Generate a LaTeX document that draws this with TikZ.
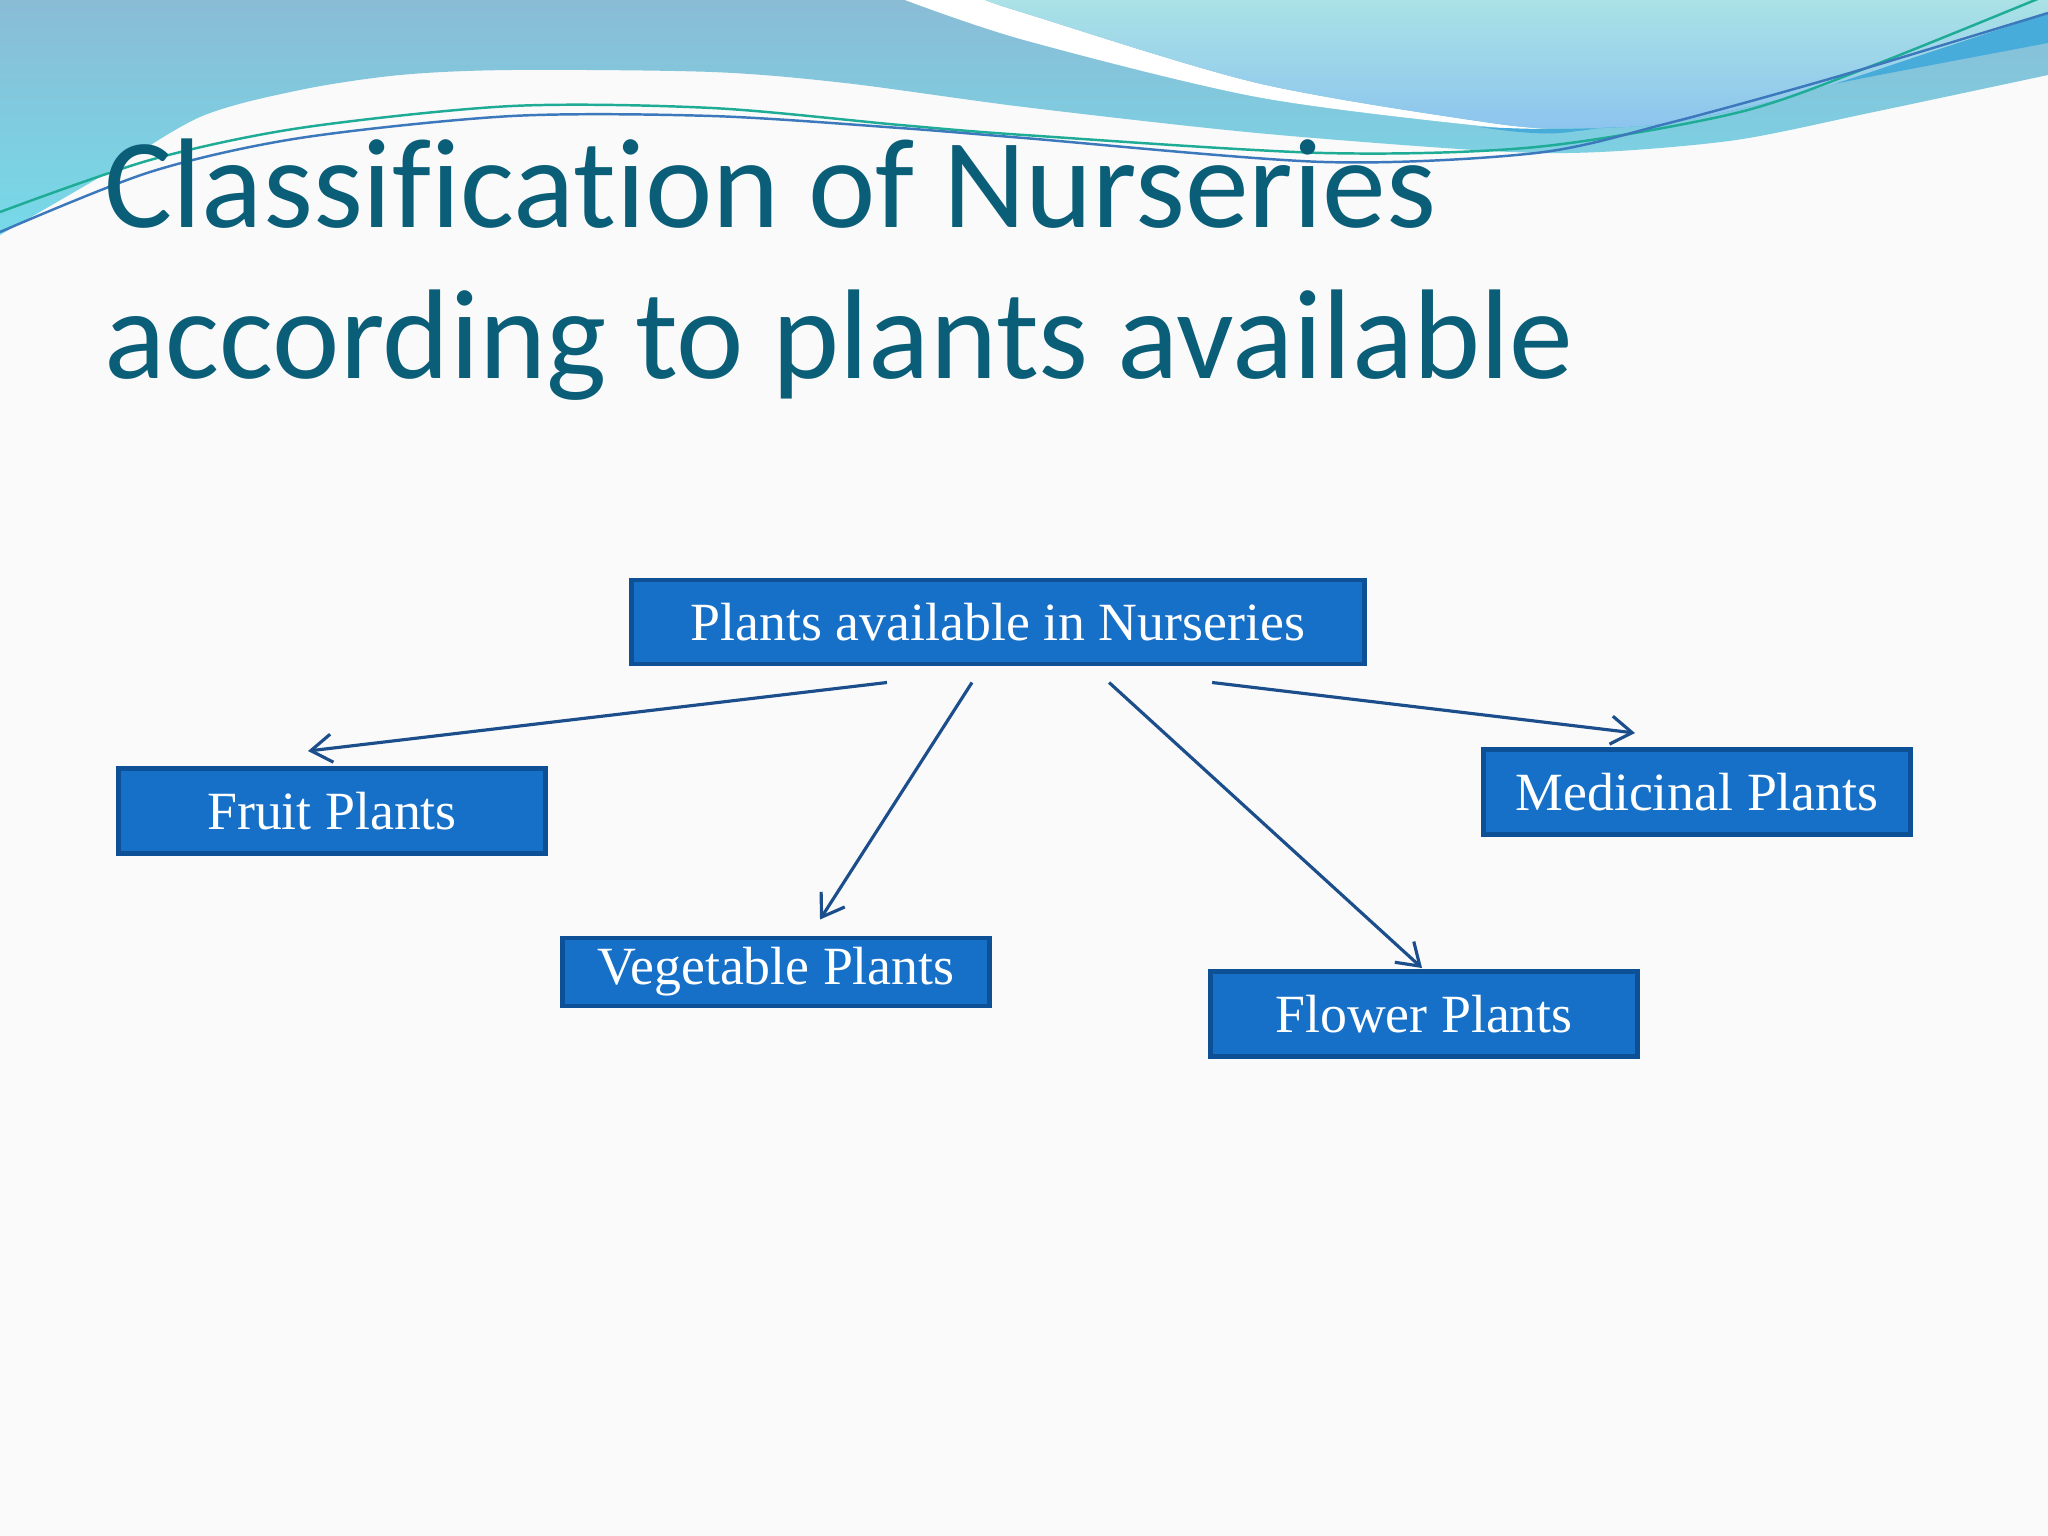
\documentclass[tikz,border=0pt]{standalone}
\usepackage{fontspec}
\setmainfont{Liberation Serif}
\newfontfamily\titlefont[Ligatures={NoCommon}]{Carlito}
\usetikzlibrary{arrows.meta}

\definecolor{titleteal}{RGB}{10,94,120}
\definecolor{boxblue}{RGB}{22,112,200}
\definecolor{boxedge}{RGB}{14,80,150}
\definecolor{arrowblue}{RGB}{28,78,140}
\definecolor{wavetop}{RGB}{138,188,214}
\definecolor{wavebottom}{RGB}{118,218,232}
\definecolor{lighttop}{RGB}{170,226,230}
\definecolor{lightbottom}{RGB}{140,196,238}
\definecolor{darkband}{RGB}{72,172,218}
\definecolor{linegreen}{RGB}{30,172,150}
\definecolor{lineblue}{RGB}{60,120,188}
\definecolor{paper}{RGB}{250,250,250}

\begin{document}
\begin{tikzpicture}[x=0.01cm,y=-0.01cm,>={Straight Barb[length=6pt,width=8pt]},
  plant box/.style={rectangle,fill=boxblue,draw=boxedge,line width=1.4pt,text=white,
    font=\fontsize{15.3}{18}\selectfont,minimum width=4.26cm,minimum height=0.85cm,inner sep=0pt},
  title text/.style={anchor=base west,inner sep=0pt,text=titleteal,font=\titlefont\fontsize{36.3}{43}\selectfont}]

  \useasboundingbox (0,0) rectangle (2048,1536);
  \clip (0,0) rectangle (2048,1536);

  % background and waves
  \fill[paper] (0,0) rectangle (2048,1536);
  \shade[top color=wavetop,bottom color=wavebottom] (0,0) -- (2048,0) -- (2048,75)
    -- plot[smooth] coordinates {(2048,75) (1869,113) (1736,140) (1600,152) (1491,151) (1257,133)
      (1024,107) (845,83) (712,72) (512,70) (400,75) (300,90) (200,117) (100,177) (0,235)} -- cycle;
  \fill[white] (905,0) -- plot[smooth] coordinates {(905,0) (1024,40) (1257,97) (1491,127) (1580,131)}
    -- plot[smooth] coordinates {(1580,131) (1491,123) (1257,83) (1024,13) (985,0)} -- cycle;
  \fill[darkband] plot[smooth] coordinates {(1480,127) (1560,129) (1669,123) (1803,93) (1936,50) (2048,13)}
    -- (2048,43) -- plot[smooth] coordinates {(2048,43) (1869,77) (1703,110) (1560,133) (1480,127)} -- cycle;
  \shade[top color=lighttop,bottom color=lightbottom] (985,0)
    -- plot[smooth] coordinates {(985,0) (1024,13) (1257,83) (1491,123) (1570,128) (1669,123) (1803,93) (1936,50) (2048,13)}
    -- (2048,0) -- cycle;
  \draw[linegreen,line width=0.7pt] plot[smooth] coordinates {(0,212) (150,160) (300,128) (512,106) (712,108)
    (900,125) (1024,135) (1324,153) (1536,147) (1736,113) (1869,67) (2040,-2)};
  \draw[lineblue,line width=0.7pt] plot[smooth] coordinates {(0,232) (150,172) (300,138) (512,116) (712,116)
    (900,128) (1024,138) (1324,162) (1536,153) (1669,123) (1836,77) (2048,13)};

  % title
  \node[title text] (title1) at (104,227) {Classification of Nurseries};
  \node[title text] (title2) at (104,378) {according to plants available};

  % boxes
  \node[plant box,minimum width=7.32cm,minimum height=0.84cm] (plants) at (998,622) {Plants available in Nurseries};
  \node[plant box] (fruit) at (332,811) {Fruit Plants};
  \node[plant box,minimum height=0.68cm] (veg) at (776,972) {Vegetable Plants};
  \node[plant box] (flower) at (1424,1014) {Flower Plants};
  \node[plant box] (medicinal) at (1697,792) {Medicinal Plants};

  \path[->,arrowblue,line width=0.9pt]
    ([xshift=-1.11cm,yshift=-0.16cm]plants.south) edge ([xshift=-0.24cm,yshift=0.15cm]fruit.north)
    ([xshift=-0.26cm,yshift=-0.16cm]plants.south) edge ([xshift=0.44cm,yshift=0.16cm]veg.north)
    ([xshift=1.11cm,yshift=-0.16cm]plants.south) edge ([xshift=-0.02cm,yshift=0.01cm]flower.north)
    ([xshift=2.14cm,yshift=-0.16cm]plants.south) edge ([xshift=-0.62cm,yshift=0.14cm]medicinal.north)
    ;
\end{tikzpicture}
\end{document}
